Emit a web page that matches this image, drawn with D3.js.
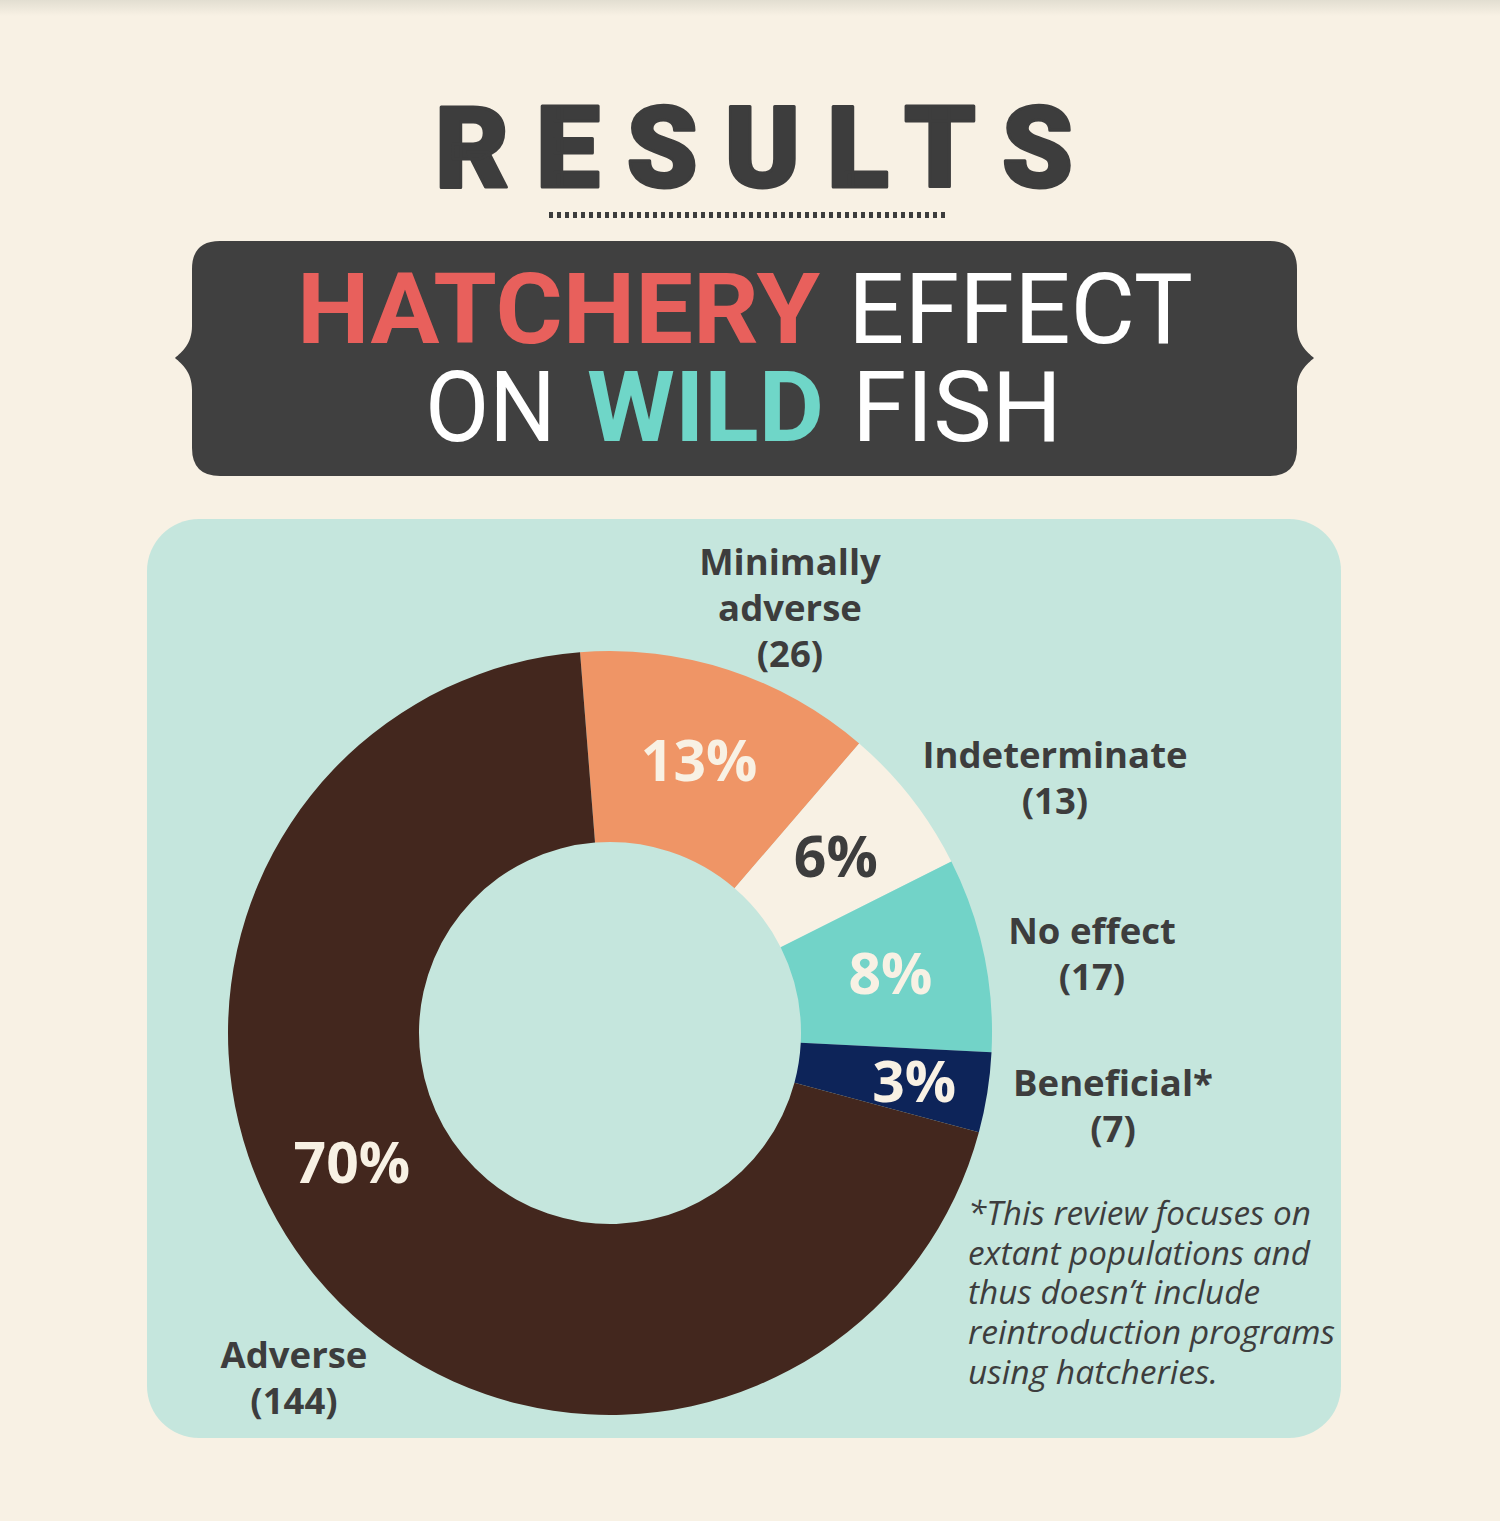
<!DOCTYPE html>
<html>
<head>
<meta charset="utf-8">
<script src="https://cdn.jsdelivr.net/npm/d3@7"></script>
<style>
html,body{margin:0;padding:0;background:#f8f1e4;}
svg{display:block;}
</style>
</head>
<body>
<svg id="chart" width="1500" height="1521"></svg>
<script>
// ---- DATA ----
const categories = ["Minimally adverse", "Indeterminate", "No effect", "Beneficial*", "Adverse"];
const labelLines = [["Minimally", "adverse"], ["Indeterminate"], ["No effect"], ["Beneficial*"], ["Adverse"]];
const counts = [26, 13, 17, 7, 144];
const colors = ["#ef9566", "#f8f1e4", "#72d3c8", "#0d2459", "#43271e"];
const pctColors = ["#f8f1e4", "#3d3d3d", "#f8f1e4", "#f8f1e4", "#f8f1e4"];
const footnote = ["*This review focuses on", "extant populations and", "thus doesn\u2019t include", "reintroduction programs", "using hatcheries."];

// ---- LAYOUT ----
const W = 1500, H = 1521;
const svg = d3.select("#chart");
const dark = "#3d3d3d";

// background + top shadow
const defs = svg.append("defs");
const g1 = defs.append("linearGradient").attr("id", "topShade").attr("x1", 0).attr("y1", 0).attr("x2", 0).attr("y2", 1);
g1.append("stop").attr("offset", "0%").attr("stop-color", "#e2ded1");
g1.append("stop").attr("offset", "100%").attr("stop-color", "#f8f1e4");
svg.append("rect").attr("width", W).attr("height", H).attr("fill", "#f8f1e4");
svg.append("rect").attr("width", W).attr("height", 16).attr("fill", "url(#topShade)");

// Title
svg.append("text").attr("x", 435).attr("y", 187)
  .attr("font-family", "Roboto, 'Open Sans', sans-serif").attr("font-weight", 900)
  .attr("font-size", 114).attr("fill", dark)
  .attr("stroke", dark).attr("stroke-width", 3).attr("stroke-linejoin", "round")
  .attr("textLength", 638).attr("lengthAdjust", "spacing")
  .text("RESULTS");

// dotted rule
svg.append("line").attr("x1", 549).attr("x2", 948).attr("y1", 215).attr("y2", 215)
  .attr("stroke", dark).attr("stroke-width", 6).attr("stroke-dasharray", "4,4");

// Banner with brace-like notches
const bx0 = 192, bx1 = 1297, by0 = 241, by1 = 476, br = 28, my = 358;
const banner = d3.path();
banner.moveTo(bx0 + br, by0);
banner.lineTo(bx1 - br, by0);
banner.quadraticCurveTo(bx1, by0, bx1, by0 + br);
banner.lineTo(bx1, my - 32);
banner.bezierCurveTo(bx1, my - 14, bx1 + 10, my - 6, bx1 + 17, my);
banner.bezierCurveTo(bx1 + 10, my + 6, bx1, my + 14, bx1, my + 32);
banner.lineTo(bx1, by1 - br);
banner.quadraticCurveTo(bx1, by1, bx1 - br, by1);
banner.lineTo(bx0 + br, by1);
banner.quadraticCurveTo(bx0, by1, bx0, by1 - br);
banner.lineTo(bx0, my + 32);
banner.bezierCurveTo(bx0, my + 14, bx0 - 10, my + 6, bx0 - 17, my);
banner.bezierCurveTo(bx0 - 10, my - 6, bx0, my - 14, bx0, my - 32);
banner.lineTo(bx0, by0 + br);
banner.quadraticCurveTo(bx0, by0, bx0 + br, by0);
banner.closePath();
svg.append("path").attr("d", banner.toString()).attr("fill", "#404040");

const bannerWords = [
  {t: "HATCHERY", x: 297, y: 343, w: 523, c: "#e8605c", fw: 700},
  {t: "EFFECT", x: 848, y: 343, w: 345, c: "#ffffff", fw: 400},
  {t: "ON", x: 425, y: 441, w: 131, c: "#ffffff", fw: 400},
  {t: "WILD", x: 587, y: 441, w: 237, c: "#6fd6c8", fw: 700},
  {t: "FISH", x: 852, y: 441, w: 210, c: "#ffffff", fw: 400}
];
svg.selectAll("text.bw").data(bannerWords).enter().append("text")
  .attr("class", "bw").attr("x", d => d.x).attr("y", d => d.y)
  .attr("font-family", "Roboto, sans-serif").attr("font-weight", d => d.fw)
  .attr("font-size", 98).attr("fill", d => d.c)
  .attr("textLength", d => d.w).attr("lengthAdjust", "spacingAndGlyphs")
  .text(d => d.t);

// Panel
svg.append("rect").attr("x", 147).attr("y", 519).attr("width", 1194).attr("height", 919)
  .attr("rx", 52).attr("fill", "#c5e6dd");

// Donut
const cx = 610, cy = 1033, rOuter = 382, rInner = 191;
const total = d3.sum(counts);
const data = categories.map((c, i) => ({cat: c, value: counts[i], color: colors[i], pc: pctColors[i], lines: labelLines[i]}));
const startA = -4.5 * Math.PI / 180;
const pie = d3.pie().value(d => d.value).sort(null).startAngle(startA).endAngle(startA + 2 * Math.PI);
const arcs = pie(data);
const arc = d3.arc().innerRadius(rInner).outerRadius(rOuter);
const g = svg.append("g").attr("transform", `translate(${cx},${cy})`);
g.selectAll("path.slice").data(arcs).enter().append("path")
  .attr("class", "slice").attr("d", arc).attr("fill", d => d.data.color);

// percentage labels
const pctFmt = v => Math.round(v / total * 100) + "%";
const pctAdj = {"Beneficial*": {r: 308, da: 0}, "Adverse": {r: 289, da: 13}};
g.selectAll("text.pct").data(arcs).enter().append("text")
  .attr("class", "pct")
  .attr("transform", d => {
    const adj = pctAdj[d.data.cat] || {r: (rInner + rOuter) / 2, da: 0};
    const a = (d.startAngle + d.endAngle) / 2 + adj.da * Math.PI / 180;
    return `translate(${Math.sin(a) * adj.r},${-Math.cos(a) * adj.r})`;
  })
  .attr("text-anchor", "middle").attr("dy", "0.36em")
  .attr("font-family", "'Open Sans', sans-serif").attr("font-weight", 700)
  .attr("font-size", 57).attr("fill", d => d.data.pc)
  .text(d => pctFmt(d.value));

// category labels (center x, first baseline y)
const catPos = {
  "Minimally adverse": [790, 575],
  "Indeterminate": [1055, 768],
  "No effect": [1092, 944],
  "Beneficial*": [1113, 1096],
  "Adverse": [294, 1368]
};
const lh = 46;
data.forEach(d => {
  const [x, y] = catPos[d.cat];
  const lines = d.lines.concat(["(" + d.value + ")"]);
  const t = svg.append("text").attr("text-anchor", "middle")
    .attr("font-family", "'Open Sans', sans-serif").attr("font-weight", 700)
    .attr("font-size", 36.5).attr("fill", dark);
  lines.forEach((ln, i) => {
    t.append("tspan").attr("x", x).attr("y", y + i * lh).text(ln);
  });
});

// footnote
svg.selectAll("text.fn").data(footnote).enter().append("text")
  .attr("class", "fn").attr("x", 968).attr("y", (d, i) => 1225 + i * 39.7)
  .attr("font-family", "'Open Sans', sans-serif").attr("font-style", "italic")
  .attr("font-size", 32).attr("fill", dark)
  .attr("textLength", (d, i) => [343, 342, 292, 367, 250][i])
  .attr("lengthAdjust", "spacingAndGlyphs")
  .text(d => d);
</script>
</body>
</html>
